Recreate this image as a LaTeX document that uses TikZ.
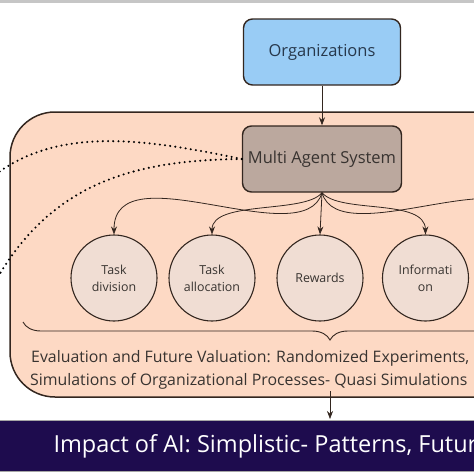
\documentclass[tikz,border=0pt]{standalone}
\usepackage{fontspec}
\setmainfont{Open Sans}
\usetikzlibrary{arrows.meta,positioning,decorations.pathreplacing}

\definecolor{peach}{HTML}{FDD9C4}
\definecolor{orgblue}{HTML}{99CCF5}
\definecolor{orgtext}{HTML}{27384C}
\definecolor{mastaupe}{HTML}{BBA89E}
\definecolor{circlefill}{HTML}{F0DDD3}
\definecolor{edge}{HTML}{33261F}
\definecolor{textdark}{HTML}{383330}
\definecolor{barindigo}{HTML}{1E0C4E}

\tikzset{
  box/.style={draw=edge, line width=1.4pt, rounded corners=9pt,
    minimum width=157pt, minimum height=66pt, inner sep=0pt,
    font=\fontsize{16.5}{19}\selectfont},
  agent/.style={circle, draw=edge, line width=1.1pt, fill=circlefill,
    minimum size=86pt, inner sep=0pt, align=center, text=textdark,
    font=\fontsize{12.4}{17}\selectfont},
  link/.style={->, line width=0.8pt, draw=edge},
  dots/.style={line width=2.3pt, dash pattern=on 0pt off 5.2pt, line cap=round},
  evaltext/.style={anchor=base west, inner sep=0pt, text=textdark,
    font=\fontsize{15.85}{19}\selectfont},
}

\begin{document}
\begin{tikzpicture}[x=1pt,y=-1pt,>={Stealth[length=8pt,width=6pt]}]
  \useasboundingbox (0,0) rectangle (474,474);

  % ------- frame strip and outer panel -------
  \fill[gray!45] (0,0) rectangle (474,2.5);
  \draw[draw=edge, line width=1.5pt, fill=peach, rounded corners=45pt] (10,112) rectangle (620,397);

  %================= top: organizations and agents =================
  \node[box, fill=orgblue, text=orgtext] (org) at (322,52) {Organizations};
  \node[box, fill=mastaupe, text=textdark, minimum width=159pt] (mas) at (322,159) {Multi Agent System};
  \draw[link] (org.south) -- (mas.north);

  % ---- row of agent tasks ----
  \node[agent] (division)    at (114,278)   {Task\\division};
  \node[agent] (allocation)  at (212,278)   {Task\\allocation};
  \node[agent] (rewards)     at (320,278)   {Rewards};
  \node[agent] (information) at (425.5,278) {Informati\\on};
  \coordinate (offright) at (530,235);                               % next task, out of view

  \draw[link] (mas.south) .. controls (304,255) and (114,150) .. (division.north);
  \draw[link] (mas.south) .. controls (305,214) and (212,200) .. (allocation.north);
  \draw[link] (mas.south) -- (rewards.north);
  \draw[link] (mas.south) .. controls (340,214) and (425,198) .. (information.north);
  \draw[link] (mas.south) .. controls (340,255) and (530,150) .. (offright);

  % ---- dotted links leaving to the left ----
  \coordinate (offleftA) at (-5,175);
  \coordinate (offleftB) at (-5,282);
  \draw[dots] (mas.west) .. controls (150,140) and (60,125) .. (offleftA);
  \draw[dots] (mas.west) .. controls (130,160) and (50,185) .. (offleftB);

  %================= bottom: evaluation and impact =================
  \draw[decorate, decoration={brace, amplitude=18pt, mirror}, line width=0.9pt, draw=edge]
    (23,322) -- (637,322);
  \node[evaltext] (evalA) at (31,362) {Evaluation and Future Valuation: Randomized Experiments, R};
  \node[evaltext] (evalB) at (30,385) {Simulations of Organizational Processes- Quasi Simulations};

  \fill[barindigo] (-5,420) rectangle (480,471);
  \draw[gray!70, line width=0.6pt] (-5,420) -- (480,420);
  \draw[gray!70, line width=0.6pt] (-5,471) -- (480,471);
  \node[anchor=west, text=white, font=\fontsize{23.5}{28}\selectfont] (impact) at (50,446)
    {Impact of AI: Simplistic- Patterns, Future};

  \coordinate (evalend) at (330,391);
  \coordinate (bartop) at (330,419);
  \draw[link, line width=0.6pt] (evalend) -- (bartop);

\end{tikzpicture}
\end{document}
